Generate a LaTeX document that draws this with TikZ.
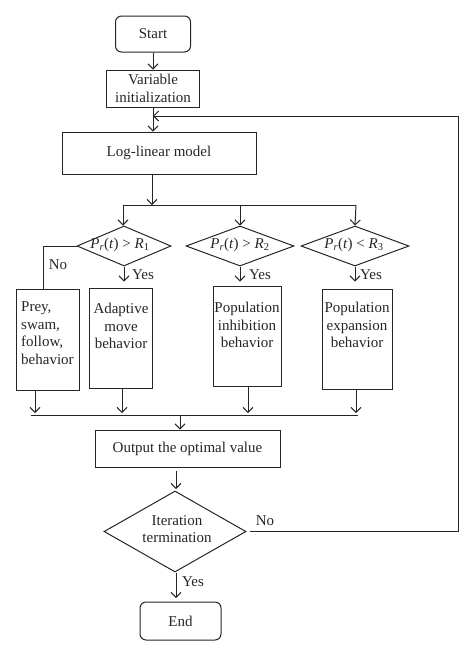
\documentclass[tikz,border=0pt]{standalone}
\usepackage{fontspec}
\setmainfont{Liberation Serif}
\usetikzlibrary{shapes.geometric,arrows.meta}
\begin{document}
\begin{tikzpicture}[x=1pt,y=-1pt,
  every node/.style={font=\fontsize{15}{17.5}\selectfont, text=black!85},
  line/.style={draw=black!85, line width=1pt},
  arr/.style={line, -{Straight Barb[length=5pt,width=10pt]}},
  boxnode/.style={draw=black!85, line width=1pt, rectangle, inner sep=0pt},
  roundbox/.style={boxnode, rounded corners=6pt},
  dia/.style={draw=black!85, line width=1pt, diamond, inner sep=0pt, shape aspect=2},
  lbl/.style={inner sep=0pt}]
\useasboundingbox (0,0) rectangle (474,657);
% nodes
\node[roundbox, minimum width=75pt, minimum height=36pt] (start) at (153,34) {Start};
\node[boxnode, minimum width=93pt, minimum height=37pt, align=center] (init) at (153,88.5) {Variable\\initialization};
\node[boxnode, minimum width=194pt, minimum height=42pt] (loglin) at (159,153) {Log-linear model};
\node[dia, minimum width=94pt, minimum height=40pt] (d1) at (124,246) {};
\node[dia, minimum width=108pt, minimum height=40pt] (d2) at (240,246) {};
\node[dia, minimum width=108pt, minimum height=40pt] (d3) at (355,246) {};
\node[lbl] (t1) at (120,245) {\textit{P}\textsubscript{\textit{r}}(\textit{t}) > \textit{R}\textsubscript{1}};
\node[lbl] (t2) at (240,245) {\textit{P}\textsubscript{\textit{r}}(\textit{t}) > \textit{R}\textsubscript{2}};
\node[lbl] (t3) at (354,245) {\textit{P}\textsubscript{\textit{r}}(\textit{t}) < \textit{R}\textsubscript{3}};
\node[boxnode, minimum width=63pt, minimum height=101pt] (prey) at (47.5,339.5) {};
\node[boxnode, minimum width=63pt, minimum height=100pt] (adapt) at (120.5,338) {};
\node[boxnode, minimum width=68pt, minimum height=100pt] (inhib) at (247,336) {};
\node[boxnode, minimum width=70pt, minimum height=100pt] (expan) at (357,339) {};
\node[lbl, align=left, anchor=west] (tprey) at (21,333) {Prey,\\swam,\\follow,\\behavior};
\node[lbl, align=center] (tadapt) at (121,326) {Adaptive\\move\\behavior};
\node[lbl, align=center] (tinhib) at (247,325) {Population\\inhibition\\behavior};
\node[lbl, align=center] (texpan) at (357,325) {Population\\expansion\\behavior};
\node[boxnode, minimum width=185pt, minimum height=37pt] (output) at (187.5,448.5) {Output the optimal value};
\node[dia, minimum width=142pt, minimum height=81pt] (iter) at (175,531.5) {};
\node[lbl, align=center] (titer) at (177,529) {Iteration\\termination};
\node[roundbox, minimum width=81pt, minimum height=38pt] (end) at (180.5,621) {End};
% labels
\node[lbl] (no1) at (58,265) {No};
\node[lbl] (y1) at (143,275) {Yes};
\node[lbl] (y2) at (260,275) {Yes};
\node[lbl] (y3) at (371,275) {Yes};
\node[lbl] (no2) at (265,521) {No};
\node[lbl] (y4) at (193,582) {Yes};
% coordinates
\coordinate (split) at (152,205);
\coordinate (splitL) at (123,205);
\coordinate (splitR) at (356,205);
\coordinate (noturn) at (43,246);
\coordinate (busL) at (31,415);
\coordinate (busR) at (358,415);
\coordinate (busC) at (180,415);
\coordinate (loopR1) at (458,531.5);
\coordinate (loopR2) at (458,116);
\coordinate (loopEnd) at (153,116);
% connectors
\draw[arr] (start.south) -- (init.north);
\draw[arr] (init.south) -- (init.south |- loglin.north);
\draw[arr] (loglin.south -| split) -- (split);
\draw[line] (splitL) -- (splitR);
\draw[arr] (splitL) -- (splitL |- d1.north);
\draw[arr] (d2.north |- split) -- (d2.north);
\draw[arr] (splitR) -- (d3.north);
\draw[line] (d1.west) -- (noturn) -- (noturn |- prey.north);
\draw[arr, shorten >=6pt] (d1.south) -- (d1.south |- adapt.north);
\draw[arr, shorten >=4pt] (d2.south) -- (d2.south |- inhib.north);
\draw[arr, shorten >=7pt] (d3.south) -- (d3.south |- expan.north);
\draw[arr, shorten >=2pt] (prey.south -| 35,0) -- (35,415);
\draw[arr, shorten >=2pt] (adapt.south -| 122,0) -- (122,415);
\draw[arr, shorten >=2pt] (inhib.south -| 248,0) -- (248,415);
\draw[arr, shorten >=2pt] (expan.south -| 356,0) -- (356,415);
\draw[line] (busL) -- (busR);
\draw[arr] (busC) -- (busC |- output.north);
\draw[arr, shorten <=3pt, shorten >=2pt] (output.south -| 176,0) -- (176,491);
\draw[arr, shorten >=4pt] (iter.south -| 176,0) -- (176,602);
\draw[arr] (iter.east) ++(3,0) -- (loopR1) -- (loopR2) -- (loopEnd);
\end{tikzpicture}
\end{document}
